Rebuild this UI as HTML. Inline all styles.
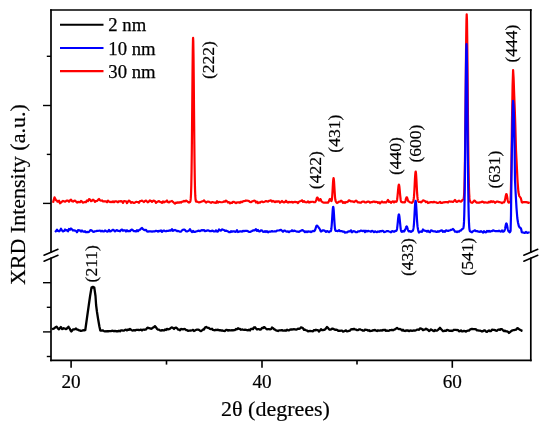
<!DOCTYPE html>
<html><head><meta charset="utf-8"><title>XRD</title><style>
html,body{margin:0;padding:0;background:#fff;width:550px;height:428px;overflow:hidden;}
svg{display:block;}
</style></head><body>
<svg width="550" height="428" viewBox="0 0 550 428">
<rect width="550" height="428" fill="#fff"/>
<polyline points="52,329.31 53,328.90 54,328.50 55,327.66 56,326.95 56.50,326.67 57,327.08 58,328.53 58.70,329.38 59,329.27 60,328.11 60.90,327.02 61,327.15 62,329.06 63,328.96 63.60,328.07 64,328.25 65,328.51 65.30,328.97 66,329.15 66.90,328.53 67,328.37 68,327.30 68.50,326.70 69,327.58 70,329.21 70.20,329.64 71,331.08 71.30,331.43 72,330.64 73,329.56 73.40,329.33 74,329.41 75,329.33 75.60,328.67 76,328.52 77,329.51 77.80,329.71 78,329.73 79,330.38 80,330.36 80.50,330.78 81,330.89 82,330.65 82.70,330.42 83,330.39 84,330.13 84.60,330.27 84.80,330.00 85.30,330.00 86.90,318.50 88.80,305.00 90.10,296.00 91.50,287.60 92.90,286.90 94.30,287.60 95.50,296.00 96.10,305.00 97,312.00 98.10,319.00 99.40,326.50 100.30,330.40 100.80,330.60 103,330.41 104,331.09 105,331.32 106,331.27 107,331.08 108,331.42 109,331.05 110,331.19 111,331.11 112,330.72 113,330.85 114,331.33 115,330.83 116,331.31 117,331.15 118,331.36 119,330.76 120,331.28 121,330.41 122,330.36 123,330.60 124,330.60 125,329.87 126,329.76 127,330.42 128,329.53 129,329.79 130,329.04 131,329.71 132,330.37 133,330.56 134,330.15 135,330.53 136,329.92 137,329.97 138,329.76 139,330.16 140,329.91 141,329.54 142,330.48 143,329.59 144,329.62 145,329.74 146,329.48 147,328.08 148,327.65 149,328.18 150,328.39 151,328.78 152,328.46 153,327.55 154,327.16 155,326.17 156,327.27 157,328.76 158,329.59 159,329.67 160,330.40 161,330.56 162,330.17 163,330.26 164,330.49 165,329.46 166,329.96 167,328.84 168,329.45 169,329.17 170,328.71 171,327.77 172,327.38 173,328.01 174,328.93 175,327.83 176,327.59 177,328.14 178,329.49 179,329.56 180,330.24 181,328.98 182,329.06 183,329.31 184,329.00 185,329.13 186,330.00 187,330.17 188,330.93 189,330.68 190,330.70 191,330.50 192,330.26 193,329.81 194,331.00 195,330.48 196,329.87 197,329.67 198,329.65 199,329.95 200,330.69 201,331.17 202,330.41 203,329.51 204,329.53 205,327.52 206,327.09 206.50,327.01 207,327.52 208,327.86 209,328.01 210,328.86 211,329.10 212,328.74 213,329.98 214,330.20 215,330.26 216,329.72 217,330.05 218,329.71 219,330.27 220,330.06 221,330.50 222,330.30 223,330.84 224,330.83 225,331.03 226,329.98 227,329.84 228,330.56 229,330.16 230,330.44 231,330.32 232,330.20 233,330.38 234,330.17 235,330.07 236,328.99 237,329.30 238,328.14 239,328.89 240,329.01 241,329.74 242,329.50 243,329.68 244,329.80 245,329.65 246,329.83 247,330.12 248,330.26 249,329.61 250,330.42 251,328.91 252,328.79 253,329.12 254,327.40 255,327.27 256,328.53 257,329.53 258,329.13 259,329.12 260,329.70 261,329.31 262,327.88 263,328.15 264,327.14 264.50,327.04 265,327.83 266,328.62 267,329.32 268,329.22 269,329.15 270,329.37 271,329.22 272,327.53 273,328.18 274,329.12 275,329.62 276,330.32 277,330.70 278,331.03 279,330.39 280,330.35 281,330.25 282,330.06 283,330.66 284,330.56 285,330.29 286,330.80 287,329.66 288,330.32 289,330.43 290,329.55 291,329.37 292,329.50 293,329.44 294,329.23 295,329.29 296,329.66 297,329.30 298,328.65 299,328.88 300,328.44 301,327.42 302,327.58 303,328.28 304,329.90 305,329.59 306,330.26 307,330.53 308,331.26 309,331.02 310,330.86 311,331.09 312,331.12 313,331.35 314,330.08 315,330.42 316,329.77 317,330.20 318,330.24 319,331.50 320,330.40 321,329.12 322,330.05 323,330.08 324,329.97 325,329.39 326,328.39 327,327.02 328,327.88 329,329.19 330,329.73 331,329.47 332,328.72 333,328.69 334,329.26 335,329.81 336,329.60 337,329.78 338,330.80 339,330.67 340,330.77 341,330.66 342,330.71 343,331.51 344,331.32 345,330.85 346,330.42 347,331.31 348,331.13 349,330.86 350,330.59 351,329.29 352,329.15 353,329.45 354,328.80 355,329.46 356,329.65 357,330.07 358,330.16 359,329.49 360,329.30 361,329.72 362,330.05 363,330.71 364,330.65 365,329.55 366,329.81 367,329.90 368,330.61 369,330.20 370,331.07 371,330.94 372,330.80 373,330.16 374,330.32 375,329.92 376,330.61 377,330.98 378,330.29 379,330.71 380,330.67 381,330.26 382,330.70 383,329.85 384,330.12 385,329.78 386,330.84 387,330.48 388,330.82 389,330.70 390,330.06 391,330.01 392,329.90 393,330.29 394,329.72 395,329.35 396,328.60 397,327.89 398,328.72 399,329.06 400,329.02 401,329.54 402,330.53 403,329.75 404,330.78 405,331.00 406,330.34 407,330.80 408,330.31 409,331.12 410,330.63 411,330.49 412,330.86 413,330.66 414,330.45 415,330.54 416,330.24 417,329.60 418,329.70 419,329.75 420,328.32 421,328.59 422,329.02 423,330.11 424,329.61 425,329.51 426,328.60 427,329.40 428,329.89 429,331.13 430,330.41 431,329.33 432,330.07 433,330.66 434,331.09 435,330.02 436,330.70 437,330.58 438,329.88 439,328.95 440,327.77 441,329.11 442,330.02 443,331.20 444,331.05 445,330.57 446,330.77 447,329.93 448,330.19 449,330.54 450,330.88 451,330.69 452,331.01 453,330.49 454,329.79 455,329.93 456,329.81 457,330.01 458,330.08 459,331.29 460,331.17 461,330.34 462,331.34 463,331.34 464,330.82 465,331.08 466,331.64 467,330.90 468,330.65 469,330.59 470,329.54 471,329.21 472,328.91 473,329.12 474,329.21 475,329.07 476,329.35 477,330.38 478,330.28 479,330.72 480,330.57 481,331.00 482,331.48 483,331.08 484,330.28 485,330.42 486,331.57 487,331.90 488,331.01 489,330.35 490,331.23 491,331.08 492,329.55 493,329.90 494,329.88 495,330.15 496,330.63 497,330.79 498,329.80 498.50,329.60 499,329.51 500,329.95 500.50,329.37 501,329.10 502,329.09 503,330.35 504,331.07 505,330.69 506,331.33 507,331.37 508,331.79 509,332.93 510,332.16 511,331.23 512,330.59 513,330.20 514,330.10 515,329.91 516,329.73 517,328.44 517.50,328.09 518,328.31 519,329.05 520,329.80 521,330.33 522,330.87 522.50,330.99" fill="none" stroke="#000" stroke-width="2.3" stroke-linejoin="round"/>
<polyline points="53,202.82 54,198.98 54.50,197.31 55,198.26 56,200.20 57,200.65 57.50,201.68 58,201.70 59,200.64 60,203.25 61,202.58 62,201.60 63,200.90 64,201.31 65,201.72 66,201.07 67,200.52 68,200.70 69,201.75 70,200.36 71,199.58 72,201.14 73,201.57 74,200.80 75,200.66 76,201.49 77,202.62 78,201.85 79,202.08 80,202.21 81,200.92 82,201.62 83,202.59 84,202.31 85,201.94 86,202.13 87,200.48 88,201.12 89,199.14 90,199.55 91,201.15 92,200.76 93,199.66 94,200.32 95,201.76 96,201.00 97,200.93 98,199.91 99,198.94 100,200.30 101,200.65 102,200.47 103,201.29 104,201.44 105,201.22 106,201.40 107,202.29 108,200.63 109,201.63 110,202.12 111,201.74 112,202.14 113,201.32 114,202.31 115,201.27 116,201.34 117,201.64 118,202.28 119,201.22 120,201.39 121,201.18 122,201.34 123,202.91 124,201.07 125,201.19 126,201.28 127,203.11 128,201.60 129,200.57 130,201.42 131,202.73 132,202.09 133,202.45 134,202.99 135,202.49 136,201.90 137,201.97 138,202.12 139,202.73 140,201.09 141,200.98 142,200.60 143,201.35 144,202.01 145,200.97 146,200.54 147,201.53 148,202.30 149,201.37 150,200.40 151,200.88 152,201.88 153,200.92 154,200.67 155,201.18 156,202.83 157,202.00 158,201.56 159,201.13 160,201.89 161,202.14 162,202.86 163,201.42 164,202.33 165,201.63 166,201.56 167,200.51 168,202.28 169,202.45 170,201.60 171,201.31 172,200.96 173,201.92 174,202.77 175,203.55 176,202.68 177,202.83 178,202.26 179,202.76 180,202.08 181,202.59 182,201.71 183,201.67 184,200.95 185,201.49 186,200.60 187,201.11 188,201.99 189,202.55 189.28,202.44 189.53,202.33 189.78,202.17 190,201.95 190.03,201.92 190.28,201.48 190.53,200.44 190.78,198.18 191,194.23 191.03,193.66 191.28,185.71 191.53,172.63 191.78,153.40 192,130.99 192.03,128.26 192.28,99.50 192.53,71.38 192.78,49.39 193,39.06 193.03,38.53 193.10,37.79 193.28,41.05 193.53,56.74 193.78,81.78 194,107.79 194.03,110.72 194.28,138.61 194.53,161.66 194.78,178.49 195,188.61 195.03,189.47 195.28,195.92 195.53,199.27 195.78,200.85 196,201.46 196.03,201.50 196.28,201.68 196.53,201.67 196.78,201.60 197,201.51 198,201.99 199,202.35 200,202.19 201,201.90 202,201.37 203,201.24 204,200.34 205,201.55 206,202.53 207,201.76 208,201.54 209,201.75 210,202.33 211,202.79 212,202.15 213,202.19 214,202.56 215,202.48 216,202.95 217,201.25 218,202.58 219,201.86 220,202.03 221,202.24 222,202.24 223,201.97 224,201.31 225,201.72 226,200.61 227,201.40 228,202.55 229,202.09 230,203.45 231,202.70 232,202.97 233,201.74 234,201.92 235,202.51 236,203.10 237,202.31 238,202.55 239,202.18 240,202.77 241,201.60 242,202.22 243,201.32 244,201.03 245,201.00 246,200.44 247,200.71 248,200.76 249,201.10 250,202.03 251,202.27 252,201.44 253,201.12 254,200.62 255,200.74 256,202.53 257,201.69 258,203.06 259,202.42 260,202.60 261,201.72 262,201.53 263,202.20 264,201.94 265,201.53 266,201.05 267,201.33 268,201.67 269,200.87 270,200.65 271,200.28 272,201.68 273,200.85 274,201.53 275,202.18 276,201.31 277,201.82 278,201.26 279,201.43 280,202.72 281,201.91 282,200.95 283,201.99 284,202.41 285,201.95 286,200.77 287,202.03 288,202.52 289,201.82 290,202.18 291,202.20 292,201.74 293,202.53 294,202.09 295,201.78 296,202.13 297,202.21 298,203.03 299,201.67 300,201.32 301,201.01 302,200.28 303,201.84 304,201.08 305,202.09 306,202.26 307,202.32 308,201.37 309,202.55 310,201.84 311,202.06 312,201.77 313,201.76 313.25,201.89 313.50,202.01 313.75,202.13 314,202.24 314.25,202.26 314.50,202.26 314.75,202.23 315,202.16 315.25,201.95 315.50,201.63 315.75,201.15 316,200.51 316.25,199.81 316.50,199.04 316.75,198.33 317,197.81 317.15,197.58 317.25,197.50 317.30,197.48 317.40,197.48 317.50,197.55 317.65,197.75 317.75,197.95 317.90,198.31 318,198.59 318.15,199.01 318.25,199.29 318.40,199.70 318.50,199.94 318.65,200.24 318.75,200.38 318.90,200.52 319,200.54 319.15,200.57 319.25,200.53 319.40,200.38 319.50,200.23 319.65,199.97 319.75,199.79 319.90,199.53 320,199.39 320.15,199.20 320.25,199.13 320.30,199.12 320.40,199.15 320.50,199.24 320.65,199.46 320.75,199.67 320.90,200.03 321,200.29 321.15,200.64 321.25,200.85 321.40,201.14 321.65,201.48 321.90,201.66 322,201.69 322.15,201.84 322.40,202.03 322.65,202.18 322.90,202.32 323,202.37 323.15,202.43 323.40,202.53 324,202.77 325,202.59 326,202.61 326.85,202.65 327,202.66 327.10,202.67 327.35,202.69 327.60,202.71 327.85,202.71 328,202.70 328.10,202.59 328.35,202.26 328.60,201.82 328.85,201.22 329,200.78 329.10,200.56 329.35,199.94 329.60,199.37 329.77,199.08 329.85,199.01 330,198.96 330.02,198.96 330.10,198.99 330.27,199.19 330.35,199.32 330.52,199.70 330.60,199.88 330.77,200.30 330.85,200.46 331,200.73 331.02,200.79 331.10,200.92 331.27,201.09 331.35,201.10 331.52,200.92 331.60,200.75 331.77,200.08 331.85,199.68 332,198.63 332.02,198.37 332.10,197.54 332.27,195.28 332.35,194.18 332.52,191.32 332.60,190.00 332.77,186.82 332.85,185.45 333,182.82 333.02,182.47 333.10,181.46 333.27,179.54 333.52,178.21 333.60,178.20 333.77,178.88 334,181.13 334.02,181.44 334.27,185.20 334.52,189.53 334.77,193.66 335,196.79 335.02,197.07 335.27,199.29 335.52,200.67 335.77,201.39 336,201.67 336.02,201.72 336.27,202.19 336.52,202.52 336.77,202.78 337,203.00 337.02,202.98 337.27,202.85 338,202.43 339,201.65 340,201.70 341,200.63 342,201.45 343,202.92 344,202.08 345,203.07 346,201.96 347,202.20 348,201.53 349,200.26 350,200.77 351,201.50 352,201.29 353,201.58 354,202.06 355,201.32 356,200.56 357,201.40 358,202.48 359,202.27 360,202.66 361,202.68 362,201.76 363,201.48 364,201.65 365,202.47 366,202.49 367,201.83 368,201.57 369,201.70 370,202.62 371,202.20 372,202.19 373,201.68 374,201.48 375,202.05 376,201.84 377,201.98 378,202.78 379,202.25 380,203.43 381,202.35 382,201.47 383,202.34 384,202.40 385,202.17 386,202.59 387,201.36 388,199.94 389,201.97 390,201.62 391,202.86 392,201.75 393,201.37 394,202.45 394.62,201.75 394.88,201.48 395,201.34 395.12,201.42 395.38,201.57 395.62,201.70 395.88,201.80 396,201.82 396.12,201.83 396.38,201.72 396.62,201.40 396.88,200.76 397,200.27 397.12,199.52 397.38,197.62 397.62,195.20 397.88,192.40 398,190.94 398.12,189.56 398.38,187.08 398.62,185.32 398.88,184.61 398.90,184.60 399,184.70 399.12,185.11 399.38,186.73 399.62,189.15 399.88,191.94 400,193.35 400.12,194.74 400.38,197.23 400.62,199.22 400.88,200.69 401,201.24 401.12,201.55 401.38,201.93 401.62,202.07 401.88,202.07 402,202.03 402.12,202.11 402.38,202.23 402.62,202.33 402.65,202.34 402.88,202.42 402.90,202.43 403,202.46 403.12,202.42 403.15,202.42 403.40,202.34 403.65,202.25 403.90,202.16 404,202.11 404.15,202.20 404.40,202.31 404.65,202.35 404.90,202.29 405,202.23 405.15,201.79 405.40,200.95 405.65,199.99 405.90,198.97 406,198.57 406.15,198.14 406.40,197.58 406.65,197.29 406.70,197.27 406.90,197.32 407,197.42 407.15,197.80 407.40,198.61 407.65,199.51 407.90,200.39 408,200.72 408.15,200.98 408.40,201.30 408.65,201.49 408.90,201.56 409,201.56 409.15,201.71 409.40,201.91 409.65,202.09 409.90,202.25 410,202.31 410.15,202.35 410.40,202.41 410.65,202.46 411,202.54 411.43,202.67 411.68,202.75 411.93,202.83 412,202.85 412.18,202.66 412.43,202.37 412.68,202.02 412.93,201.54 413,201.35 413.18,201.05 413.43,200.31 413.68,199.00 413.93,196.92 414,196.13 414.18,193.72 414.43,189.52 414.68,184.67 414.93,179.64 415,178.19 415.18,175.44 415.43,172.61 415.68,171.59 415.70,171.60 415.93,172.61 416,173.30 416.18,175.58 416.43,179.93 416.68,184.94 416.93,189.89 417,191.29 417.18,193.91 417.43,196.90 417.68,198.99 417.93,200.28 418,200.54 418.18,201.12 418.43,201.66 418.50,201.77 418.68,201.92 418.93,202.02 419,202.03 419.18,202.01 419.43,201.94 419.68,201.87 419.93,201.78 420,201.76 421,202.45 422,201.64 423,200.40 424,200.60 425,201.14 426,202.09 427,201.70 428,203.02 429,202.66 430,202.33 431,202.05 432,202.08 433,202.43 434,201.78 435,202.24 436,202.25 437,202.84 438,202.85 439,202.55 440,201.81 441,202.90 442,202.93 443,202.46 444,202.44 445,202.07 446,202.21 447,202.06 448,202.51 449,201.39 450,201.53 451,201.59 452,201.69 453,201.97 454,201.02 455,199.97 456,201.45 457,201.96 458,201.25 459,200.65 460,201.33 461,201.56 462,200.69 462.20,200.35 462.45,199.92 462.50,199.83 462.70,199.71 462.95,199.50 463,199.45 463.20,199.49 463.45,199.28 463.70,198.48 463.95,196.62 464,196.07 464.20,192.68 464.45,185.99 464.70,175.53 464.95,160.38 465,156.74 465.20,140.40 465.45,115.86 465.70,88.44 465.95,61.09 466,55.96 466.20,37.06 466.45,20.52 466.70,14.40 466.95,19.74 467,22.13 467.20,36.11 467.45,60.26 467.70,88.26 467.95,116.33 468,121.67 468.20,141.28 468.45,161.57 468.70,176.74 468.95,187.22 469,188.83 469.20,193.79 469.45,197.66 469.50,198.19 469.70,199.76 469.95,200.81 470,200.94 470.20,201.46 470.45,201.87 470.70,202.13 470.95,202.34 471,202.37 471.20,202.47 472,202.82 473,202.04 474,200.85 474.50,200.59 475,200.97 476,202.07 477,202.76 478,202.52 479,202.80 480,202.35 481,202.22 482,201.64 483,201.88 484,202.63 485,202.18 486,202.51 487,202.62 488,202.60 489,201.71 490,202.40 491,201.10 492,202.00 493,201.28 494,201.66 495,202.77 496,202.05 497,201.64 498,201.55 499,202.20 500,202.21 501,202.47 502,203.07 502.35,202.83 502.60,202.66 502.85,202.49 503,202.38 503.10,202.40 503.35,202.44 503.50,202.45 503.60,202.45 503.85,202.38 504,202.31 504.10,202.22 504.35,201.86 504.60,201.30 504.85,200.45 505,199.79 505.10,199.37 505.35,198.15 505.60,196.80 505.85,195.55 506,194.97 506.10,194.59 506.35,194.09 506.40,194.07 506.60,194.28 506.85,195.11 507,195.85 507.10,196.44 507.35,198.00 507.60,199.52 507.85,200.82 508,201.46 508.10,201.75 508.35,202.26 508.60,202.53 508.85,202.63 509,202.00 509.80,202.40 510.50,201.00 510.90,190.00 511.40,165.00 512,120.00 512.60,85.00 513.10,70.00 513.60,78.00 514.20,95.00 514.80,110.00 515.30,125.00 516,150.00 517,170.00 517.60,182.00 518.40,192.00 519.20,195.80 520,197.00 520.80,198.20 521.30,200.00 521.80,202.20 522.50,202.60 523.70,202.08 524.90,202.14 526.10,202.11 527.30,202.31 528.50,202.93 529.70,202.02" fill="none" stroke="#f00" stroke-width="2.2" stroke-linejoin="round"/>
<polyline points="55,232.03 56,231.14 57,229.67 58,230.99 59,231.29 60,230.55 61,228.67 62,230.44 63,231.39 64,231.04 65,229.53 66,230.35 67,230.18 68,231.35 69,228.97 70,229.74 71,228.51 72,229.36 73,230.55 74,230.33 75,230.58 76,230.94 77,232.24 78,230.17 79,230.41 80,230.44 81,231.63 82,230.47 83,231.42 84,231.81 85,231.19 86,232.30 87,231.94 88,232.17 89,232.00 90,230.55 91,230.05 92,230.75 93,231.62 94,231.81 95,231.25 96,231.15 97,230.92 98,230.80 99,230.74 100,230.57 101,231.34 102,230.76 103,231.44 104,231.42 105,230.42 106,231.04 107,231.58 108,231.34 109,229.82 110,231.46 111,231.12 112,230.41 113,229.77 114,230.42 115,231.33 116,230.56 117,230.11 118,230.84 119,230.83 120,231.39 121,230.06 122,229.55 123,230.76 124,230.28 125,230.32 126,231.46 127,230.26 128,231.32 129,230.91 130,231.17 131,230.09 132,229.55 133,230.41 134,231.24 135,231.20 136,231.50 137,230.17 138,231.30 139,230.07 140,229.76 141,228.58 142,227.99 143,229.18 144,229.87 145,230.26 146,229.80 147,231.41 148,231.64 149,231.28 150,231.36 151,231.44 152,231.55 153,231.38 154,231.23 155,231.33 156,230.76 157,231.01 158,231.64 159,230.82 160,231.08 161,230.43 162,231.89 163,230.89 164,230.49 165,231.11 166,231.28 167,230.73 168,230.95 169,230.68 170,230.44 171,230.54 172,229.06 173,230.86 174,230.33 175,229.92 176,230.41 177,231.09 178,230.90 179,231.35 180,231.77 181,231.60 182,230.35 183,229.74 184,229.50 185,230.02 186,231.19 187,231.48 188,231.06 189,230.60 190,229.22 191,230.87 192,232.17 193,230.93 194,231.84 195,231.87 196,231.55 197,231.21 198,230.89 199,230.68 200,231.15 201,230.53 202,230.11 203,230.48 204,230.08 205,231.22 206,230.93 207,230.62 208,230.29 209,230.69 210,231.22 211,231.19 212,230.60 213,230.92 214,231.48 215,231.42 216,230.36 217,231.70 218,231.38 219,229.51 220,230.21 221,230.65 222,229.39 223,229.70 224,230.02 225,230.86 226,230.57 227,231.00 228,231.47 229,232.22 230,232.23 231,231.11 232,231.82 233,231.36 234,231.33 235,231.82 236,231.58 237,230.15 238,232.08 239,231.75 240,231.32 241,231.31 242,231.67 243,230.75 244,231.23 245,230.75 246,230.93 247,230.91 248,231.26 249,231.97 250,231.98 251,231.51 252,231.04 253,230.45 254,230.44 255,230.11 256,229.17 257,230.94 258,230.02 259,231.42 260,231.38 261,230.24 262,230.53 263,231.65 264,231.82 265,231.07 266,231.98 267,231.12 268,232.36 269,231.53 270,231.48 271,231.56 272,231.13 273,231.53 274,231.40 275,231.24 276,231.50 277,230.68 278,230.51 279,230.51 280,230.12 281,229.81 282,230.70 283,231.79 284,230.72 285,230.63 286,231.35 287,231.59 288,231.33 289,232.15 290,231.27 291,231.22 292,230.27 293,231.23 294,230.63 295,230.89 296,231.31 297,231.61 298,231.55 299,231.92 300,231.21 301,230.64 302,230.16 302.50,230.03 303,230.49 304,231.12 305,232.15 306,231.35 307,232.05 308,231.29 309,231.76 310,231.45 311,232.08 312,231.48 312.30,231.30 312.55,231.16 312.80,231.02 313,230.90 313.05,230.92 313.30,231.00 313.55,231.08 313.80,231.14 314,231.16 314.05,231.15 314.30,231.02 314.55,230.81 314.80,230.50 315,230.15 315.05,230.04 315.30,229.41 315.40,229.11 315.55,228.63 315.65,228.30 315.80,227.78 315.90,227.43 316,227.09 316.05,226.94 316.15,226.66 316.30,226.27 316.40,226.05 316.55,225.80 316.65,225.69 316.80,225.60 316.90,225.60 317,225.63 317.05,225.65 317.15,225.71 317.30,225.85 317.40,225.95 317.55,226.12 317.65,226.23 317.80,226.35 317.90,226.40 318,226.43 318.05,226.53 318.15,226.71 318.30,226.95 318.40,227.09 318.55,227.30 318.65,227.45 318.80,227.72 318.90,227.94 319,228.19 319.05,228.19 319.15,228.22 319.30,228.34 319.40,228.47 319.55,228.71 319.65,228.89 319.80,229.17 319.90,229.36 320,229.53 320.05,229.69 320.15,229.99 320.30,230.40 320.40,230.63 320.55,230.94 320.65,231.11 320.80,231.32 320.90,231.44 321,231.54 321.05,231.52 321.15,231.46 321.30,231.37 321.40,231.29 321.65,231.09 321.90,230.86 322,230.77 322.15,230.72 322.40,230.62 323,230.38 324,230.36 325,230.95 326,231.95 327,231.00 328,231.55 329,232.13 329.15,231.99 329.40,231.75 329.65,231.50 329.90,231.25 330,231.14 330.15,231.22 330.40,231.30 330.65,231.24 330.90,230.94 331,230.70 331.15,229.97 331.40,228.24 331.65,225.75 331.90,222.42 332,220.87 332.15,218.59 332.40,214.58 332.65,210.84 332.90,208.09 333,207.41 333.15,206.84 333.20,206.80 333.40,207.40 333.65,209.69 333.90,213.24 334,214.86 334.15,217.44 334.40,221.60 334.65,225.16 334.90,227.91 335,228.78 335.15,229.59 335.40,230.43 335.65,230.79 335.90,230.83 336,230.80 336.15,230.88 336.40,230.96 336.65,231.00 336.90,231.02 337,231.03 337.15,231.04 338,231.08 338.50,230.40 339,230.14 340,231.12 341,231.20 342,231.18 343,231.71 344,231.62 345,232.66 346,232.31 347,232.46 348,231.61 349,231.36 350,231.36 351,230.37 352,232.24 353,231.29 354,231.21 355,231.58 356,232.27 357,232.24 358,231.32 359,231.49 360,231.13 361,230.56 362,230.94 363,231.12 364,230.65 365,232.08 366,230.78 367,231.49 368,230.82 369,231.07 370,231.27 371,231.80 372,230.82 373,231.20 374,232.18 375,231.36 376,231.85 377,232.07 378,231.41 379,231.79 380,231.04 381,231.41 382,230.89 383,230.77 384,232.16 385,231.82 386,231.55 387,231.06 388,231.08 389,231.44 390,231.75 391,232.36 392,231.08 393,231.32 394,231.82 394.40,231.58 394.65,231.43 394.90,231.28 395,231.21 395.15,231.20 395.40,231.17 395.65,231.11 395.90,231.00 396,230.93 396.15,230.89 396.40,230.69 396.65,230.23 396.90,229.44 397,229.00 397.15,228.05 397.40,226.08 397.65,223.69 397.90,221.03 398,219.95 398.15,218.47 398.40,216.33 398.65,214.88 398.90,214.40 399,214.50 399.15,214.92 399.40,216.37 399.65,218.53 399.90,221.03 400,222.06 400.15,223.70 400.40,226.21 400.65,228.30 400.90,229.91 401,230.43 401.15,230.92 401.40,231.49 401.50,231.63 401.65,231.75 401.90,231.82 402,231.81 402.15,231.72 402.40,231.52 402.55,231.38 402.65,231.29 402.80,231.15 402.90,231.05 403,230.96 403.05,230.99 403.15,231.05 403.30,231.15 403.40,231.21 403.55,231.30 403.80,231.44 404,231.53 404.05,231.48 404.30,231.20 404.55,230.82 404.80,230.32 405,229.79 405.05,229.72 405.30,229.30 405.55,228.71 405.80,228.05 406,227.56 406.05,227.39 406.30,226.71 406.55,226.40 406.60,226.38 406.80,226.50 407,226.86 407.05,226.98 407.30,227.71 407.55,228.56 407.80,229.39 408,229.96 408.05,230.10 408.30,230.68 408.55,231.08 408.80,231.32 409,231.44 409.05,231.44 409.30,231.38 409.55,231.27 409.80,231.15 410,231.05 410.05,231.10 410.30,231.31 410.55,231.53 411,231.92 411.10,231.85 411.35,231.67 411.60,231.49 411.85,231.31 412,231.18 412.10,231.16 412.35,231.06 412.60,230.86 412.85,230.50 413,230.14 413.10,229.89 413.35,228.95 413.60,227.38 413.85,225.05 414,223.25 414.10,221.78 414.35,217.59 414.60,212.93 414.85,208.28 415,205.75 415.10,204.33 415.35,201.71 415.60,200.80 415.85,201.75 416,203.16 416.10,204.40 416.35,208.27 416.60,212.78 416.85,217.29 417,219.79 417.10,221.31 417.35,224.54 417.60,226.93 417.85,228.56 418,229.24 418.10,229.77 418.35,230.85 418.50,231.35 418.60,231.65 418.85,232.29 419,232.62 419.10,232.54 419.35,232.32 419.60,232.07 419.85,231.81 420,231.65 420.10,231.66 421,231.70 422,231.78 423,229.48 424,230.40 425,230.85 426,230.84 427,231.68 428,230.75 429,231.86 430,232.05 431,230.46 432,230.61 433,231.28 434,231.43 435,231.24 436,231.79 437,231.83 438,231.20 439,231.66 440,231.03 441,230.57 442,230.32 443,231.77 444,231.15 445,231.94 446,230.26 447,230.61 448,230.93 448.50,230.82 449,230.50 450,230.39 451,229.82 452,229.62 453,229.00 454,229.98 455,231.55 456,231.48 457,232.12 458,231.38 459,231.71 460,230.68 461,230.52 462,229.20 462.25,228.94 462.50,228.65 462.75,228.71 463,228.62 463.25,228.35 463.50,227.48 463.75,225.57 464,221.89 464.25,215.08 464.50,204.51 464.75,189.26 465,168.89 465.25,144.37 465.50,116.97 465.75,89.63 466,66.14 466.25,49.86 466.50,44.00 466.75,49.60 467,65.64 467.25,89.81 467.50,117.84 467.75,145.93 468,171.14 468.25,191.27 468.50,206.29 468.75,216.62 469,223.18 469.25,227.28 469.50,229.62 469.75,230.75 470,231.31 470.25,231.54 470.50,231.64 470.75,231.68 471,231.69 472,232.26 473,231.26 474,230.81 475,230.26 476,231.26 477,231.08 478,231.58 479,231.70 480,231.91 481,231.19 482,231.91 483,232.51 484,231.13 485,232.23 486,232.39 487,230.96 488,231.60 489,230.80 490,231.67 491,231.13 492,231.17 493,230.38 494,230.66 495,231.07 496,231.19 497,231.14 498,231.23 499,230.72 500,231.25 501,231.63 502,230.46 502.35,230.91 502.60,231.23 502.85,231.54 503,231.73 503.10,231.70 503.35,231.61 503.60,231.50 503.85,231.35 504,231.22 504.10,231.12 504.35,230.81 504.60,230.29 504.85,229.52 505,228.93 505.10,228.49 505.35,227.25 505.60,225.90 505.85,224.64 506,224.02 506.10,223.72 506.35,223.36 506.40,223.36 506.60,223.60 506.85,224.39 507,225.07 507.10,225.56 507.35,226.89 507.60,228.18 507.85,229.28 508,229.82 508.10,230.17 508.35,230.87 508.60,231.35 508.85,231.66 509,231.60 509.80,232.30 510.60,231.00 511,215.00 511.40,180.00 511.90,150.00 512.50,120.00 512.80,106.00 513.10,100.80 513.50,105.00 514.10,120.00 514.60,150.00 515,180.00 515.70,194.00 516.50,208.00 517.30,218.00 518,222.50 518.80,226.00 519.60,227.40 520.60,227.90 521.20,229.20 521.80,232.20 522.50,232.50 523.70,232.61 524.90,232.95 526.10,231.96 527.30,233.01 528.50,232.49 529.70,232.26" fill="none" stroke="#00f" stroke-width="2.2" stroke-linejoin="round"/>
<g stroke="#000" stroke-width="1.7" fill="none" stroke-linecap="square">
<line x1="51" y1="10.0" x2="530.8" y2="10.0"/>
<line x1="51" y1="360.4" x2="530.8" y2="360.4"/>
<line x1="51" y1="10.0" x2="51" y2="252"/>
<line x1="51" y1="258.4" x2="51" y2="360.4"/>
<line x1="530.8" y1="10.0" x2="530.8" y2="252"/>
<line x1="530.8" y1="258.4" x2="530.8" y2="360.4"/>
</g>
<g stroke="#000" stroke-width="1.5" stroke-linecap="round">
<line x1="44.0" y1="255.3" x2="58.0" y2="249.2"/>
<line x1="44.0" y1="261.2" x2="58.0" y2="255.3"/>
<line x1="523.8" y1="255.3" x2="537.8" y2="249.2"/>
<line x1="523.8" y1="261.2" x2="537.8" y2="255.3"/>
</g>
<g stroke="#000" stroke-width="1.6">
<line x1="71.1" y1="360.4" x2="71.1" y2="367.8"/>
<line x1="262.0" y1="360.4" x2="262.0" y2="367.8"/>
<line x1="452.3" y1="360.4" x2="452.3" y2="367.8"/>
<line x1="166.5" y1="360.4" x2="166.5" y2="364.6"/>
<line x1="357.0" y1="360.4" x2="357.0" y2="364.6"/>
</g>
<g stroke="#000" stroke-width="1.4">
<line x1="51" y1="105.5" x2="43" y2="105.5"/>
<line x1="51" y1="203.4" x2="43" y2="203.4"/>
<line x1="51" y1="282.7" x2="43" y2="282.7"/>
<line x1="51" y1="331.9" x2="43" y2="331.9"/>
<line x1="51" y1="56.3" x2="46.8" y2="56.3"/>
<line x1="51" y1="154.4" x2="46.8" y2="154.4"/>
<line x1="51" y1="307.3" x2="46.8" y2="307.3"/>
<line x1="51" y1="356.5" x2="46.8" y2="356.5"/>
</g>
<g stroke-width="2.1">
<line x1="60" y1="24.8" x2="103.5" y2="24.8" stroke="#000"/>
<line x1="60" y1="48.0" x2="103.5" y2="48.0" stroke="#00f"/>
<line x1="60" y1="71.1" x2="103.5" y2="71.1" stroke="#f00"/>
</g>
<g font-family="'Liberation Serif', serif" font-size="18.7" fill="#000" stroke="#000" stroke-width="0.25">
<text x="108.3" y="31.4">2 nm</text>
<text x="108.3" y="54.6">10 nm</text>
<text x="108.3" y="77.8">30 nm</text>
</g>
<g font-family="'Liberation Serif', serif" font-size="19.2" fill="#000" stroke="#000" stroke-width="0.2" text-anchor="middle">
<text x="71.1" y="387.8">20</text>
<text x="262.0" y="387.8">40</text>
<text x="452.3" y="387.8">60</text>
</g>
<g font-family="'Liberation Serif', serif" font-size="22" fill="#000" stroke="#000" stroke-width="0.2" text-anchor="middle">
<text x="275.5" y="416.2">2θ (degrees)</text>
<text transform="translate(25.2,194.7) rotate(-90)">XRD Intensity (a.u.)</text>
</g>
<g font-family="'Liberation Serif', serif" font-size="17.5" fill="#000" stroke="#000" stroke-width="0.2" text-anchor="middle">
<text transform="translate(210.4,60.1) rotate(-90)" dy="0.23em">(222)</text>
<text transform="translate(316.8,170.2) rotate(-90)" dy="0.23em">(422)</text>
<text transform="translate(335.8,133.7) rotate(-90)" dy="0.23em">(431)</text>
<text transform="translate(396.8,156.0) rotate(-90)" dy="0.23em">(440)</text>
<text transform="translate(417.3,143.6) rotate(-90)" dy="0.23em">(600)</text>
<text transform="translate(496.0,169.6) rotate(-90)" dy="0.23em">(631)</text>
<text transform="translate(513.0,43.5) rotate(-90)" dy="0.23em">(444)</text>
<text transform="translate(408.6,257.0) rotate(-90)" dy="0.23em">(433)</text>
<text transform="translate(469.0,256.7) rotate(-90)" dy="0.23em">(541)</text>
<text transform="translate(92.7,263.8) rotate(-90)" dy="0.23em">(211)</text>
</g>
</svg>
</body></html>
